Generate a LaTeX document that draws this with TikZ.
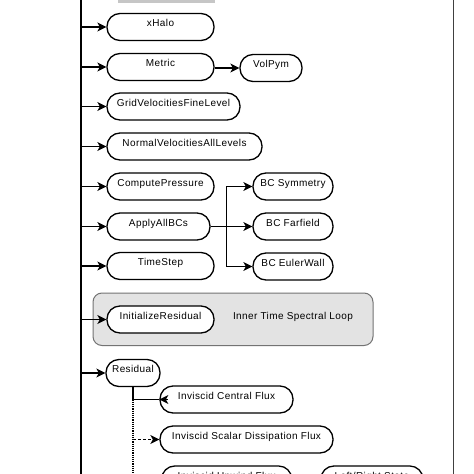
\documentclass[tikz,border=0pt]{standalone}
\usepackage{fontspec}
\newfontfamily\nodefont[LetterSpace=4]{Liberation Sans}
\usetikzlibrary{arrows.meta}
\begin{document}
\begin{tikzpicture}[x=1pt,y=-1pt,
  box/.style={draw, line width=1.3pt, rounded corners=13pt, inner xsep=0pt, inner ysep=6pt,
    text height=7pt, text depth=8pt, font=\nodefont\fontsize{10}{11}\selectfont},
  plain/.style={inner sep=0pt, text height=7pt, text depth=8pt, font=\nodefont\fontsize{10}{11}\selectfont},
  tip/.style={Stealth[length=9pt,width=9pt,inset=2.5pt]},
  arr/.style={line width=1.2pt, -{Stealth[length=9pt,width=9pt,inset=2.5pt]}},
  conn/.style={line width=1.2pt}]
\useasboundingbox (0,0) rectangle (474,474);
\fill[white] (0,0) rectangle (474,474);
% top partial element
\fill[gray!45] (118,-5) rectangle (215,3);
% frame and trunk
\coordinate (ttop) at (81,0);
\coordinate (tbot) at (81,474);
\coordinate (ftop) at (453,0);
\coordinate (fbot) at (453,474);
\draw[line width=1pt, black!75] (ftop) -- (fbot);
\draw[line width=1.5pt] (ttop) -- (tbot);
% loop box
\draw[line width=1pt, draw=black!55, fill=black!11, rounded corners=9pt] (93,293) rectangle (373,345.5);
% nodes
\node[box, minimum width=107pt] (xhalo) at (160.5,27) {xHalo};
\node[box, minimum width=107pt] (metric) at (160.5,67) {Metric};
\node[box, minimum width=62pt] (volpym) at (271,68) {VolPym};
\node[box, minimum width=133pt] (grid) at (173.5,106.5) {GridVelocitiesFineLevel};
\node[box, minimum width=155pt] (normal) at (184.5,146.5) {NormalVelocitiesAllLevels};
\node[box, minimum width=107pt] (press) at (160.5,186.5) {ComputePressure};
\node[box, minimum width=103pt] (bcs) at (158.5,226.5) {ApplyAllBCs};
\node[box, minimum width=107pt] (tstep) at (160.5,266) {TimeStep};
\node[box, minimum width=80pt] (bcsym) at (293,186.5) {BC Symmetry};
\node[box, minimum width=80pt] (bcfar) at (293,226.5) {BC Farfield};
\node[box, minimum width=80pt] (bcwall) at (293,266.5) {BC EulerWall};
\node[box, minimum width=107pt, fill=white] (initres) at (160.5,319.5) {InitializeResidual};
\node[plain] (looplbl) at (293,319.5) {Inner Time Spectral Loop};
\node[box, minimum width=54pt] (resid) at (133,373) {Residual};
\node[box, minimum width=133pt] (central) at (226.5,399.5) {Inviscid Central Flux};
\node[box, minimum width=173pt] (scalar) at (246.5,439.5) {Inviscid Scalar Dissipation Flux};
\node[box, minimum width=130pt] (upwind) at (226.7,479.5) {Inviscid Upwind Flux};
\node[box, minimum width=102pt] (lrstate) at (371.9,479.5) {Left/Right State};
% trunk arrows
\foreach \n in {xhalo,metric,grid,normal,press,bcs,tstep,initres,resid}
  \draw[arr] (\n.west -| ttop) -- (\n.west);
% Metric -> VolPym
\draw[arr] (metric.east |- volpym.west) -- (volpym.west);
% ApplyAllBCs -> BCs
\coordinate (bcbr) at (226.7,226.5);
\draw[arr] (bcs.east) -- (bcfar.west);
\draw[arr] (bcbr) |- (bcsym.west);
\draw[arr] (bcbr) |- (bcwall.west);
% Residual branch
\coordinate (rbr) at (resid.south |- central.west);
\coordinate (rbot) at (133,474);
\draw[conn] (resid.south) -- (rbr) -- (central.west);
\draw[line width=1.2pt, {Stealth[length=9pt,width=9pt,inset=2.5pt]}-] (central.west) -- ++(9,0);
\draw[line width=1.2pt, densely dotted] (rbr) -- (rbot);
\draw[line width=1.2pt, densely dashed, -{Stealth[length=9pt,width=9pt,inset=2.5pt]}] (rbr |- scalar.west) -- (scalar.west);
\end{tikzpicture}
\end{document}
